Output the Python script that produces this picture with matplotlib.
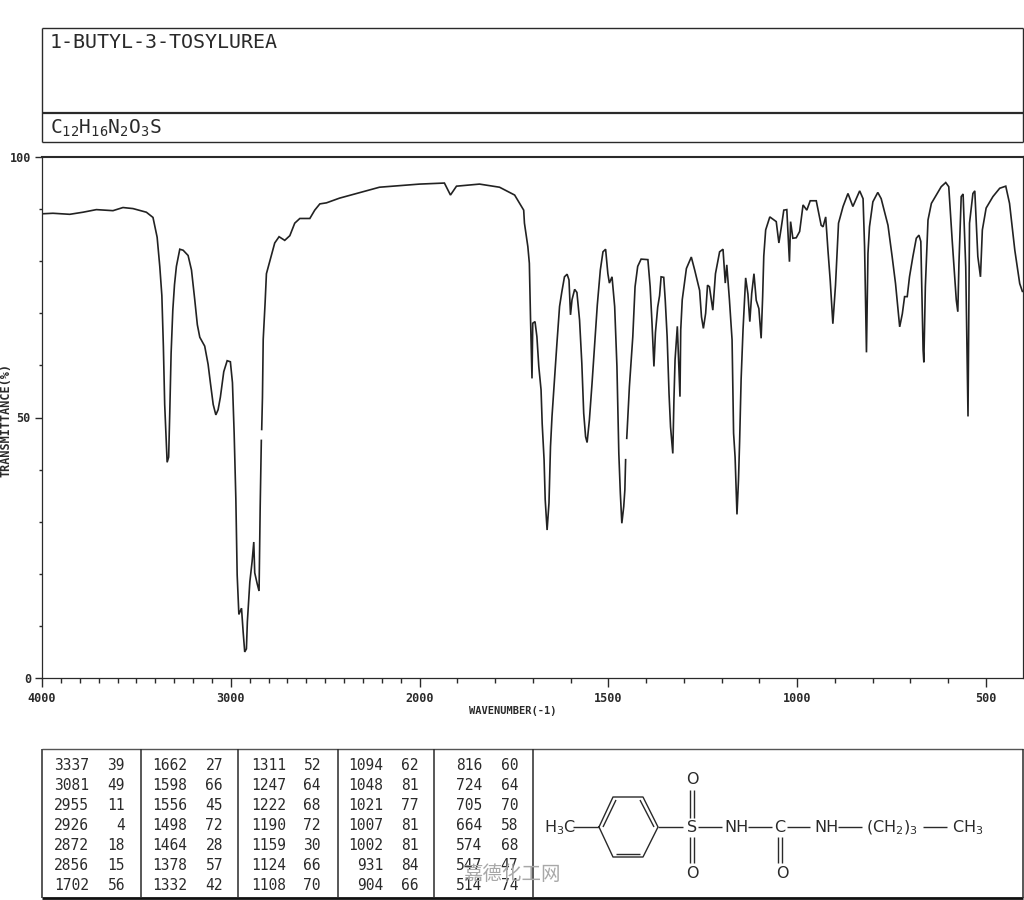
import matplotlib
matplotlib.use("Agg")

import matplotlib.pyplot as plt
import numpy as np

W, H = 1024, 900
INK = "#2a2a2a"

TITLE = "1-BUTYL-3-TOSYLUREA"
FORMULA = "C$_{12}$H$_{16}$N$_{2}$O$_{3}$S"

# spectrum (nan = gaps in the scanned trace)
wavenumber = [
    4000, 3942, 3853, 3783, 3712, 3624, 3571, 3518, 3447, 3412, 3390, 3376, 3365, 3357, 3350, 3343,
    3337, 3329, 3323, 3316, 3307, 3298, 3288, 3270, 3252, 3226, 3208, 3191, 3177, 3164, 3138, 3120,
    3108, 3093, 3079, 3067, 3055, 3037, 3019, 3002, 2991, 2982, 2973, 2966, 2957, 2943, 2934, 2926,
    2917, 2912, 2899, 2887, 2878, 2873, 2860, 2850, 2844, 2838, 2837, 2836, 2832, 2828, 2818, 2811, 2790,
    2767, 2744, 2714, 2687, 2661, 2634, 2581, 2555, 2528, 2493, 2424, 2212, 2000, 1934, 1918, 1902,
    1841, 1788, 1748, 1724, 1722, 1713, 1709, 1706, 1702, 1700, 1694, 1689, 1684, 1678, 1675, 1670,
    1667, 1662, 1657, 1653, 1649, 1642, 1636, 1629, 1623, 1616, 1609, 1604, 1600, 1596, 1589, 1583,
    1576, 1570, 1565, 1560, 1556, 1550, 1543, 1536, 1529, 1521, 1514, 1507, 1501, 1497, 1490, 1483,
    1477, 1472, 1468, 1464, 1459, 1456, 1454, 1452, 1451, 1444, 1435, 1429, 1422, 1413, 1395, 1389,
    1384, 1379, 1375, 1369, 1364, 1360, 1353, 1349, 1344, 1339, 1335, 1329, 1326, 1323, 1317, 1310,
    1308, 1304, 1293, 1280, 1271, 1258, 1253, 1248, 1242, 1237, 1232, 1223, 1216, 1205, 1196, 1190,
    1186, 1179, 1172, 1168, 1164, 1159, 1155, 1152, 1148, 1143, 1136, 1130, 1125, 1120, 1114, 1108,
    1101, 1095, 1091, 1088, 1083, 1072, 1055, 1048, 1042, 1035, 1027, 1020, 1017, 1011, 1002, 993,
    984, 974, 965, 949, 936, 931, 924, 918, 912, 905, 898, 890, 878, 865, 852, 834,
    825, 821, 816, 812, 808, 799, 786, 777, 759, 748, 739, 728, 721, 715, 708, 702,
    693, 684, 677, 672, 666, 664, 660, 653, 644, 631, 618, 606, 598, 589, 578, 574,
    571, 565, 560, 553, 547, 543, 534, 529, 521, 514, 509, 499, 481, 463, 447, 437,
    423, 410, 403, 400,
]
transmittance = [
    89.1, 89.2, 89.0, 89.4, 89.9, 89.7, 90.3, 90.1, 89.4, 88.4, 84.6, 79.0, 73.4, 63.7, 52.5, 46.3,
    41.4, 42.4, 51.1, 62.3, 70.6, 75.5, 79.0, 82.3, 82.1, 81.1, 78.3, 72.7, 67.8, 65.4, 63.7, 60.2,
    56.7, 52.5, 50.5, 51.5, 53.9, 58.8, 60.9, 60.7, 56.7, 47.0, 34.4, 19.8, 12.2, 13.4, 8.7, 5.0,
    5.6, 10.8, 18.4, 22.3, 26.1, 20.2, 18.1, 16.7, 33.0, 45.6, np.nan, 47.7, 53.9, 65.0, 72.0, 77.6, 80.4,
    83.5, 84.7, 84.0, 84.9, 87.3, 88.2, 88.2, 89.8, 91.0, 91.2, 92.1, 94.2, 94.8, 95.0, 92.7, 94.4,
    94.8, 94.2, 92.7, 89.8, 87.3, 82.8, 79.6, 69.3, 57.5, 68.1, 68.4, 65.5, 59.8, 55.3, 48.8, 41.9,
    34.2, 28.4, 33.6, 44.4, 50.2, 57.8, 64.2, 71.3, 74.1, 77.0, 77.5, 76.4, 69.7, 72.6, 74.6, 74.0,
    68.7, 60.4, 50.8, 46.3, 45.2, 49.5, 56.5, 64.2, 71.6, 78.3, 81.8, 82.3, 77.6, 75.8, 77.0, 71.3,
    59.8, 43.1, 35.5, 29.7, 32.9, 36.1, 41.9, np.nan, 46.0, 55.9, 65.5, 75.1, 79.0, 80.4, 80.3, 75.1,
    68.0, 59.8, 66.3, 71.2, 73.4, 77.0, 76.9, 72.5, 65.5, 54.6, 48.2, 43.1, 53.4, 61.1, 67.5, 54.0,
    66.8, 72.6, 78.6, 80.8, 78.3, 74.4, 69.3, 67.1, 70.0, 75.4, 75.1, 70.6, 77.6, 81.8, 82.3, 75.8,
    79.3, 72.6, 64.9, 47.0, 42.4, 31.4, 38.0, 45.4, 57.4, 66.8, 76.8, 73.7, 68.4, 73.8, 77.6, 72.5,
    70.9, 65.2, 73.2, 81.0, 86.0, 88.5, 87.6, 83.5, 86.3, 89.8, 89.9, 79.9, 87.6, 84.4, 84.5, 85.7,
    90.8, 89.8, 91.6, 91.6, 86.9, 86.6, 88.5, 82.1, 76.3, 68.0, 75.4, 87.3, 90.5, 93.0, 90.5, 93.5,
    92.0, 82.8, 62.5, 81.5, 86.6, 91.4, 93.2, 92.0, 86.9, 80.9, 75.7, 67.4, 69.9, 73.2, 73.2, 77.0,
    80.9, 84.4, 85.0, 83.8, 63.0, 60.6, 75.1, 87.9, 91.1, 92.7, 94.3, 95.1, 94.3, 84.1, 72.5, 70.3,
    79.6, 92.4, 92.9, 78.9, 50.2, 87.3, 93.0, 93.5, 80.9, 77.0, 86.0, 90.2, 92.4, 94.0, 94.4, 91.1,
    82.1, 75.7, 74.2, 74.2,
]

x_major = [4000, 3000, 2000, 1500, 1000, 500]
x_minor = list(range(3900, 2000, -100)) + list(range(1900, 400, -100))
y_major = [0, 50, 100]
y_minor = [10, 20, 30, 40, 60, 70, 80, 90]

# peak table, one list pair per column
peak_wn_1 = [3337, 3081, 2955, 2926, 2872, 2856, 1702]
peak_t_1 = [39, 49, 11, 4, 18, 15, 56]
peak_wn_2 = [1662, 1598, 1556, 1498, 1464, 1378, 1332]
peak_t_2 = [27, 66, 45, 72, 28, 57, 42]
peak_wn_3 = [1311, 1247, 1222, 1190, 1159, 1124, 1108]
peak_t_3 = [52, 64, 68, 72, 30, 66, 70]
peak_wn_4 = [1094, 1048, 1021, 1007, 1002, 931, 904]
peak_t_4 = [62, 81, 77, 81, 81, 84, 66]
peak_wn_5 = [816, 724, 705, 664, 574, 547, 514]
peak_t_5 = [60, 64, 70, 58, 68, 47, 74]


def forward(v):
    v = np.asarray(v, dtype=float)
    return np.where(v <= 2000, 2 * v, v + 2000)


def inverse(v):
    v = np.asarray(v, dtype=float)
    return np.where(v <= 4000, v / 2, v - 2000)


def rect(l, t, r, b):
    return [l / W, 1 - b / H, (r - l) / W, (b - t) / H]


plt.rcParams["font.family"] = ["DejaVu Sans Mono"]
plt.rcParams["mathtext.default"] = "regular"

fig = plt.figure(figsize=(W / 100, H / 100), dpi=100)

# page layer in pixel coordinates for the boxes, table and structure
page = fig.add_axes([0, 0, 1, 1])
page.set_xlim(0, W)
page.set_ylim(H, 0)
page.axis("off")


def seg(x0, y0, x1, y1, lw=1.0, color=INK):
    page.plot([x0, x1], [y0, y1], color=color, lw=lw, solid_capstyle="butt")


# title and formula boxes
seg(42, 28, 1023, 28)
seg(42, 28, 42, 142)
seg(1023, 28, 1023, 142)
seg(42, 113, 1023, 113, lw=1.6)
seg(42, 142, 1023, 142)
page.text(50, 43, TITLE, fontsize=14.4, color=INK, va="center", ha="left")
page.text(50, 128, FORMULA, fontsize=14, color=INK, va="center", ha="left")

# table frame
seg(42, 749, 1023, 749, color="#555555")
seg(42, 898, 1023, 898, lw=2.0, color="#111111")
for xv in [42, 141, 238, 338, 434, 533, 1023]:
    seg(xv, 749, xv, 898, lw=1.1)

rows_y = [765, 785, 805, 825, 845, 865, 885]
columns = [
    (peak_wn_1, peak_t_1, 89, 125),
    (peak_wn_2, peak_t_2, 187, 223),
    (peak_wn_3, peak_t_3, 286, 321),
    (peak_wn_4, peak_t_4, 383, 419),
    (peak_wn_5, peak_t_5, 482, 518),
]
for wns, ts, xa, xb in columns:
    for yv, wn, t in zip(rows_y, wns, ts):
        page.text(xa, yv, str(wn), fontsize=10.5, color=INK, ha="right", va="center")
        page.text(xb, yv, str(t), fontsize=10.5, color=INK, ha="right", va="center")

page.text(512, 874, "嘉德化工网", fontsize=14, color="#a8a8a8", ha="center", va="center",
          family=["Noto Sans CJK SC", "DejaVu Sans"], zorder=5)

# structure
ring_x = [599, 613, 643, 658, 643, 613, 599]
ring_y = [827, 797, 797, 827, 857, 857, 827]
page.plot(ring_x, ring_y, color=INK, lw=1.0)
seg(603, 827, 616, 800)
seg(640, 800, 654, 827)
seg(616, 854, 640, 854)
seg(573, 827, 599, 827)
seg(658, 827, 683, 827)
seg(698, 827, 722, 827)
seg(748, 827, 772, 827)
seg(787, 827, 810, 827)
seg(838, 827, 862, 827)
seg(923, 827, 947, 827)
for xv in [690, 694]:
    seg(xv, 790, xv, 818)
    seg(xv, 837, xv, 863)
for xv in [778, 782]:
    seg(xv, 837, xv, 863)
chem = dict(fontsize=11.5, color=INK, ha="center", va="center",
            family=["DejaVu Sans"])
page.text(560, 828, "H$_3$C", **chem)
page.text(692, 827, "S", **chem)
page.text(692, 779, "O", **chem)
page.text(692, 874, "O", **chem)
page.text(737, 827, "NH", **chem)
page.text(780, 827, "C", **chem)
page.text(782, 874, "O", **chem)
page.text(827, 827, "NH", **chem)
page.text(892, 828, "(CH$_2$)$_3$", **chem)
page.text(968, 828, "CH$_3$", **chem)

# spectrum
ax = fig.add_axes(rect(42, 157, 1023.5, 678))
ax.patch.set_alpha(0)
ax.set_xscale("function", functions=(forward, inverse))
ax.plot(wavenumber, transmittance, color="#222222", lw=1.2, solid_joinstyle="miter")
ax.set_xlim(4000, 400)
ax.set_ylim(0, 100)

ax.set_xticks(x_major)
ax.set_xticklabels([str(v) for v in x_major])
ax.set_xticks(x_minor, minor=True)
ax.set_yticks(y_major)
ax.set_yticklabels([str(v) for v in y_major])
ax.set_yticks(y_minor, minor=True)
ax.xaxis.set_minor_formatter(matplotlib.ticker.NullFormatter())
ax.tick_params(axis="x", which="major", length=6.5, width=1.0, color=INK, labelsize=8.5,
               labelcolor=INK, pad=3.5)
ax.tick_params(axis="x", which="minor", length=3.5, width=1.0, color=INK)
ax.tick_params(axis="y", which="major", length=5, width=1.0, color=INK, labelsize=8.5,
               labelcolor=INK, pad=3)
ax.tick_params(axis="y", which="minor", length=2, width=1.0, color=INK)
for tick in ax.get_xticklabels() + ax.get_yticklabels():
    tick.set_fontweight("bold")

for name, lw in [("top", 1.5), ("right", 1.6), ("left", 0.9), ("bottom", 0.9)]:
    ax.spines[name].set_linewidth(lw)
    ax.spines[name].set_color(INK)

page.text(513, 711, "WAVENUMBER(-1)", fontsize=7.5, fontweight="bold", color=INK,
          ha="center", va="center")
page.text(6, 420, "TRANSMITTANCE(%)", fontsize=8.5, fontweight="bold", color=INK,
          ha="center", va="center", rotation=90)

fig.savefig("out.png", dpi=100)
plt.close(fig)
